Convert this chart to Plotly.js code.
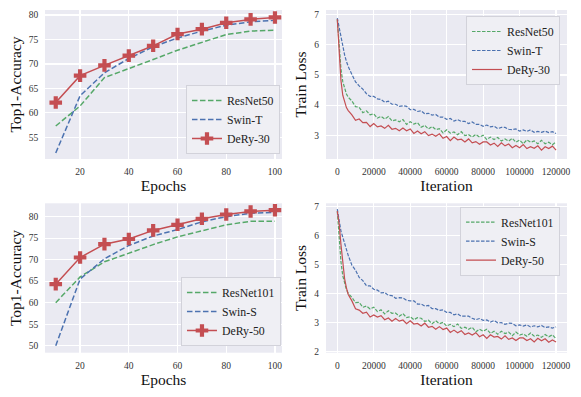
<!DOCTYPE html>
<html>
<head>
<meta charset="utf-8">
<script src="https://cdn.plot.ly/plotly-3.0.1.min.js"></script>
<style>
  html, body { margin: 0; padding: 0; background: #fff; }
  #chart { width: 581px; height: 397px; }
</style>
</head>
<body>
<div id="chart"></div>
<script>
// accuracy curves (epochs)
const epochs = [10, 20, 30, 40, 50, 60, 70, 80, 90, 100];

const accResNet50 = [57.3, 61.4, 67.2, 69.0, 70.9, 72.8, 74.4, 76.0, 76.7, 76.9];
const accSwinT    = [51.8, 63.5, 68.2, 71.1, 73.5, 75.3, 76.7, 77.9, 78.6, 78.9];
const accDeRy30   = [62.1, 67.6, 69.7, 71.7, 73.7, 76.1, 77.1, 78.4, 79.1, 79.5];

const accResNet101 = [60.0, 66.0, 69.5, 71.5, 73.5, 75.3, 76.7, 78.1, 78.9, 78.9];
const accSwinS     = [50.0, 65.5, 70.2, 73.3, 75.5, 77.0, 78.8, 80.0, 80.8, 81.0];
const accDeRy50    = [64.3, 70.5, 73.6, 74.8, 76.8, 78.1, 79.5, 80.5, 81.2, 81.5];

// loss curves (iterations)
const iters = [0, 1000, 2000, 3000, 4000, 5000, 6000,
  8000, 10000, 12000, 14000, 16000, 18000, 20000, 22000, 24000, 26000, 28000, 30000,
  32000, 34000, 36000, 38000, 40000, 42000, 44000, 46000, 48000, 50000, 52000, 54000,
  56000, 58000, 60000, 62000, 64000, 66000, 68000, 70000, 72000, 74000, 76000, 78000,
  80000, 82000, 84000, 86000, 88000, 90000, 92000, 94000, 96000, 98000, 100000, 102000,
  104000, 106000, 108000, 110000, 112000, 114000, 116000, 118000, 120000];

const lossResNet50 = [6.85, 5.94, 5.20, 4.78, 4.53, 4.37, 4.26,
  4.14, 3.95, 3.93, 3.75, 3.81, 3.68, 3.71, 3.57, 3.63, 3.54, 3.62, 3.48, 3.51, 3.45,
  3.52, 3.36, 3.45, 3.37, 3.42, 3.27, 3.33, 3.21, 3.29, 3.19, 3.22, 3.08, 3.18, 3.07,
  3.11, 3.02, 3.12, 2.99, 3.02, 2.94, 3.03, 2.94, 3.00, 2.86, 2.94, 2.86, 2.93, 2.81,
  2.88, 2.81, 2.90, 2.77, 2.84, 2.72, 2.85, 2.77, 2.81, 2.72, 2.83, 2.72, 2.77, 2.69, 2.78];
const lossSwinT = [6.89, 6.56, 6.23, 5.93, 5.67, 5.45, 5.28,
  5.02, 4.77, 4.64, 4.53, 4.38, 4.29, 4.29, 4.21, 4.19, 4.10, 4.13, 4.03, 4.03, 3.96,
  3.98, 3.96, 3.85, 3.86, 3.79, 3.81, 3.71, 3.73, 3.67, 3.69, 3.60, 3.60, 3.53, 3.56,
  3.47, 3.52, 3.46, 3.46, 3.39, 3.44, 3.36, 3.36, 3.30, 3.34, 3.28, 3.30, 3.22, 3.26,
  3.26, 3.20, 3.19, 3.21, 3.14, 3.18, 3.13, 3.18, 3.10, 3.13, 3.10, 3.14, 3.09, 3.12, 3.06];
const lossDeRy30 = [6.85, 5.70, 4.82, 4.33, 4.08, 3.92, 3.82,
  3.68, 3.50, 3.54, 3.42, 3.43, 3.29, 3.39, 3.28, 3.31, 3.23, 3.33, 3.20, 3.23, 3.15,
  3.24, 3.15, 3.21, 3.06, 3.14, 3.05, 3.12, 2.99, 3.04, 2.97, 3.05, 2.90, 2.96, 2.82,
  2.94, 2.85, 2.87, 2.78, 2.88, 2.75, 2.79, 2.70, 2.78, 2.78, 2.68, 2.74, 2.63, 2.75,
  2.65, 2.71, 2.59, 2.66, 2.59, 2.69, 2.56, 2.62, 2.57, 2.65, 2.51, 2.62, 2.56, 2.64, 2.51];

const lossResNet101 = [6.85, 6.02, 5.10, 4.62, 4.34, 4.14, 4.01,
  3.87, 3.69, 3.70, 3.53, 3.57, 3.47, 3.53, 3.38, 3.44, 3.30, 3.41, 3.32, 3.33, 3.22,
  3.31, 3.17, 3.20, 3.10, 3.17, 3.15, 3.04, 3.08, 2.96, 3.06, 2.96, 3.01, 2.88, 2.94,
  2.86, 2.95, 2.80, 2.84, 2.77, 2.84, 2.68, 2.77, 2.70, 2.77, 2.63, 2.70, 2.60, 2.70,
  2.62, 2.67, 2.55, 2.67, 2.57, 2.61, 2.53, 2.64, 2.53, 2.57, 2.49, 2.59, 2.51, 2.58, 2.44];
const lossSwinS = [6.92, 6.52, 6.16, 5.95, 5.72, 5.50, 5.32,
  4.98, 4.81, 4.56, 4.45, 4.27, 4.27, 4.15, 4.12, 4.03, 4.04, 3.94, 3.93, 3.84, 3.86,
  3.85, 3.77, 3.75, 3.75, 3.64, 3.64, 3.57, 3.59, 3.48, 3.48, 3.42, 3.44, 3.35, 3.35,
  3.27, 3.30, 3.22, 3.23, 3.22, 3.15, 3.10, 3.14, 3.08, 3.09, 3.02, 3.07, 2.99, 3.00,
  2.94, 2.98, 2.97, 2.89, 2.92, 2.88, 2.92, 2.85, 2.89, 2.85, 2.90, 2.83, 2.85, 2.81, 2.85];
const lossDeRy50 = [6.85, 6.42, 5.70, 5.02, 4.52, 4.20, 3.97,
  3.75, 3.48, 3.43, 3.32, 3.36, 3.19, 3.26, 3.19, 3.24, 3.10, 3.16, 3.05, 3.14, 3.05,
  3.09, 2.96, 3.06, 2.95, 2.97, 2.88, 2.98, 2.84, 2.87, 2.77, 2.86, 2.76, 2.81, 2.66,
  2.74, 2.65, 2.72, 2.59, 2.64, 2.57, 2.65, 2.51, 2.58, 2.45, 2.58, 2.50, 2.52, 2.43,
  2.54, 2.42, 2.47, 2.38, 2.47, 2.47, 2.38, 2.44, 2.33, 2.46, 2.37, 2.44, 2.32, 2.40, 2.33];

const GREEN = '#55A868', BLUE = '#4C72B0', RED = '#C44E52';
const FONT = '"Liberation Serif", "Times New Roman", serif';

function accTraces(names, series, xa, ya, leg) {
  return [
    {x: epochs, y: series[0], name: names[0], mode: 'lines', xaxis: xa, yaxis: ya, legend: leg,
     line: {color: GREEN, width: 1.5, dash: '5.5px,2.5px'}},
    {x: epochs, y: series[1], name: names[1], mode: 'lines', xaxis: xa, yaxis: ya, legend: leg,
     line: {color: BLUE, width: 1.5, dash: '5.5px,2.5px'}},
    {x: epochs, y: series[2], name: names[2], mode: 'lines+markers', xaxis: xa, yaxis: ya, legend: leg,
     line: {color: RED, width: 1.5}, marker: {symbol: 'cross', size: 10.5, color: RED}}
  ];
}

function lossTraces(names, series, xa, ya, leg) {
  return [
    {x: iters, y: series[0], name: names[0], mode: 'lines', xaxis: xa, yaxis: ya, legend: leg,
     line: {color: GREEN, width: 1.2, dash: '3.5px,1.5px'}},
    {x: iters, y: series[1], name: names[1], mode: 'lines', xaxis: xa, yaxis: ya, legend: leg,
     line: {color: BLUE, width: 1.2, dash: '3.5px,1.5px'}},
    {x: iters, y: series[2], name: names[2], mode: 'lines', xaxis: xa, yaxis: ya, legend: leg,
     line: {color: RED, width: 1.2}}
  ];
}

const data = [].concat(
  accTraces(['ResNet50', 'Swin-T', 'DeRy-30'], [accResNet50, accSwinT, accDeRy30], 'x', 'y', 'legend'),
  lossTraces(['ResNet50', 'Swin-T', 'DeRy-30'], [lossResNet50, lossSwinT, lossDeRy30], 'x2', 'y2', 'legend2'),
  accTraces(['ResNet101', 'Swin-S', 'DeRy-50'], [accResNet101, accSwinS, accDeRy50], 'x3', 'y3', 'legend3'),
  lossTraces(['ResNet101', 'Swin-S', 'DeRy-50'], [lossResNet101, lossSwinS, lossDeRy50], 'x4', 'y4', 'legend4')
);

const axBase = {
  showgrid: true, gridcolor: '#ffffff', gridwidth: 1.2, zeroline: false, showline: false,
  ticks: 'outside', ticklen: 4, tickcolor: 'rgba(0,0,0,0)',
  tickfont: {family: FONT, size: 9.5, color: '#333'}, automargin: false
};
const titleFont = {family: FONT, size: 15.5, color: '#111'};

function xAcc(dom, anchor) {
  return Object.assign({}, axBase, {domain: dom, anchor: anchor, range: [5.6, 102.9],
    tickvals: [20, 40, 60, 80, 100], title: {text: 'Epochs', font: titleFont, standoff: 1}});
}
function xLoss(dom, anchor) {
  return Object.assign({}, axBase, {domain: dom, anchor: anchor, range: [-6200, 126000],
    tickvals: [0, 20000, 40000, 60000, 80000, 100000, 120000], tickformat: 'd',
    title: {text: 'Iteration', font: titleFont, standoff: 1}});
}
function yAx(dom, anchor, range, ticks, label) {
  return Object.assign({}, axBase, {domain: dom, anchor: anchor, range: range, tickvals: ticks,
    title: {text: label, font: titleFont, standoff: 3}});
}

const legBase = {
  bgcolor: '#EFEFF4', bordercolor: '#D2D2DA', borderwidth: 1,
  font: {family: FONT, size: 11.8, color: '#222'}, tracegroupgap: 0
};

const topY = [0.5995, 0.9748], botY = [0.1116, 0.4879];
const leftX = [0.0775, 0.4854], rightX = [0.5611, 0.9759];

const layout = {
  width: 581, height: 397,
  margin: {l: 0, r: 0, t: 0, b: 0},
  paper_bgcolor: '#ffffff', plot_bgcolor: '#EAEAF2',
  showlegend: true,
  xaxis: xAcc(leftX, 'y'),
  yaxis: yAx(topY, 'x', [50.56, 81.02], [55, 60, 65, 70, 75, 80], 'Top1-Accuracy'),
  xaxis2: xLoss(rightX, 'y2'),
  yaxis2: yAx(topY, 'x2', [2.214, 7.156], [3, 4, 5, 6, 7], 'Train Loss'),
  xaxis3: xAcc(leftX, 'y3'),
  yaxis3: yAx(botY, 'x3', [48.37, 83.1], [50, 55, 60, 65, 70, 75, 80], 'Top1-Accuracy'),
  xaxis4: xLoss(rightX, 'y4'),
  yaxis4: yAx(botY, 'x4', [1.96, 7.12], [2, 3, 4, 5, 6, 7], 'Train Loss'),
  legend: Object.assign({}, legBase, {x: 0.4819, y: 0.6121, xanchor: 'right', yanchor: 'bottom'}),
  legend2: Object.assign({}, legBase, {x: 0.9639, y: 0.9597, xanchor: 'right', yanchor: 'top'}),
  legend3: Object.assign({}, legBase, {x: 0.4836, y: 0.1285, xanchor: 'right', yanchor: 'bottom'}),
  legend4: Object.assign({}, legBase, {x: 0.9639, y: 0.4793, xanchor: 'right', yanchor: 'top'})
};

Plotly.newPlot('chart', data, layout, {staticPlot: true});
</script>
</body>
</html>
